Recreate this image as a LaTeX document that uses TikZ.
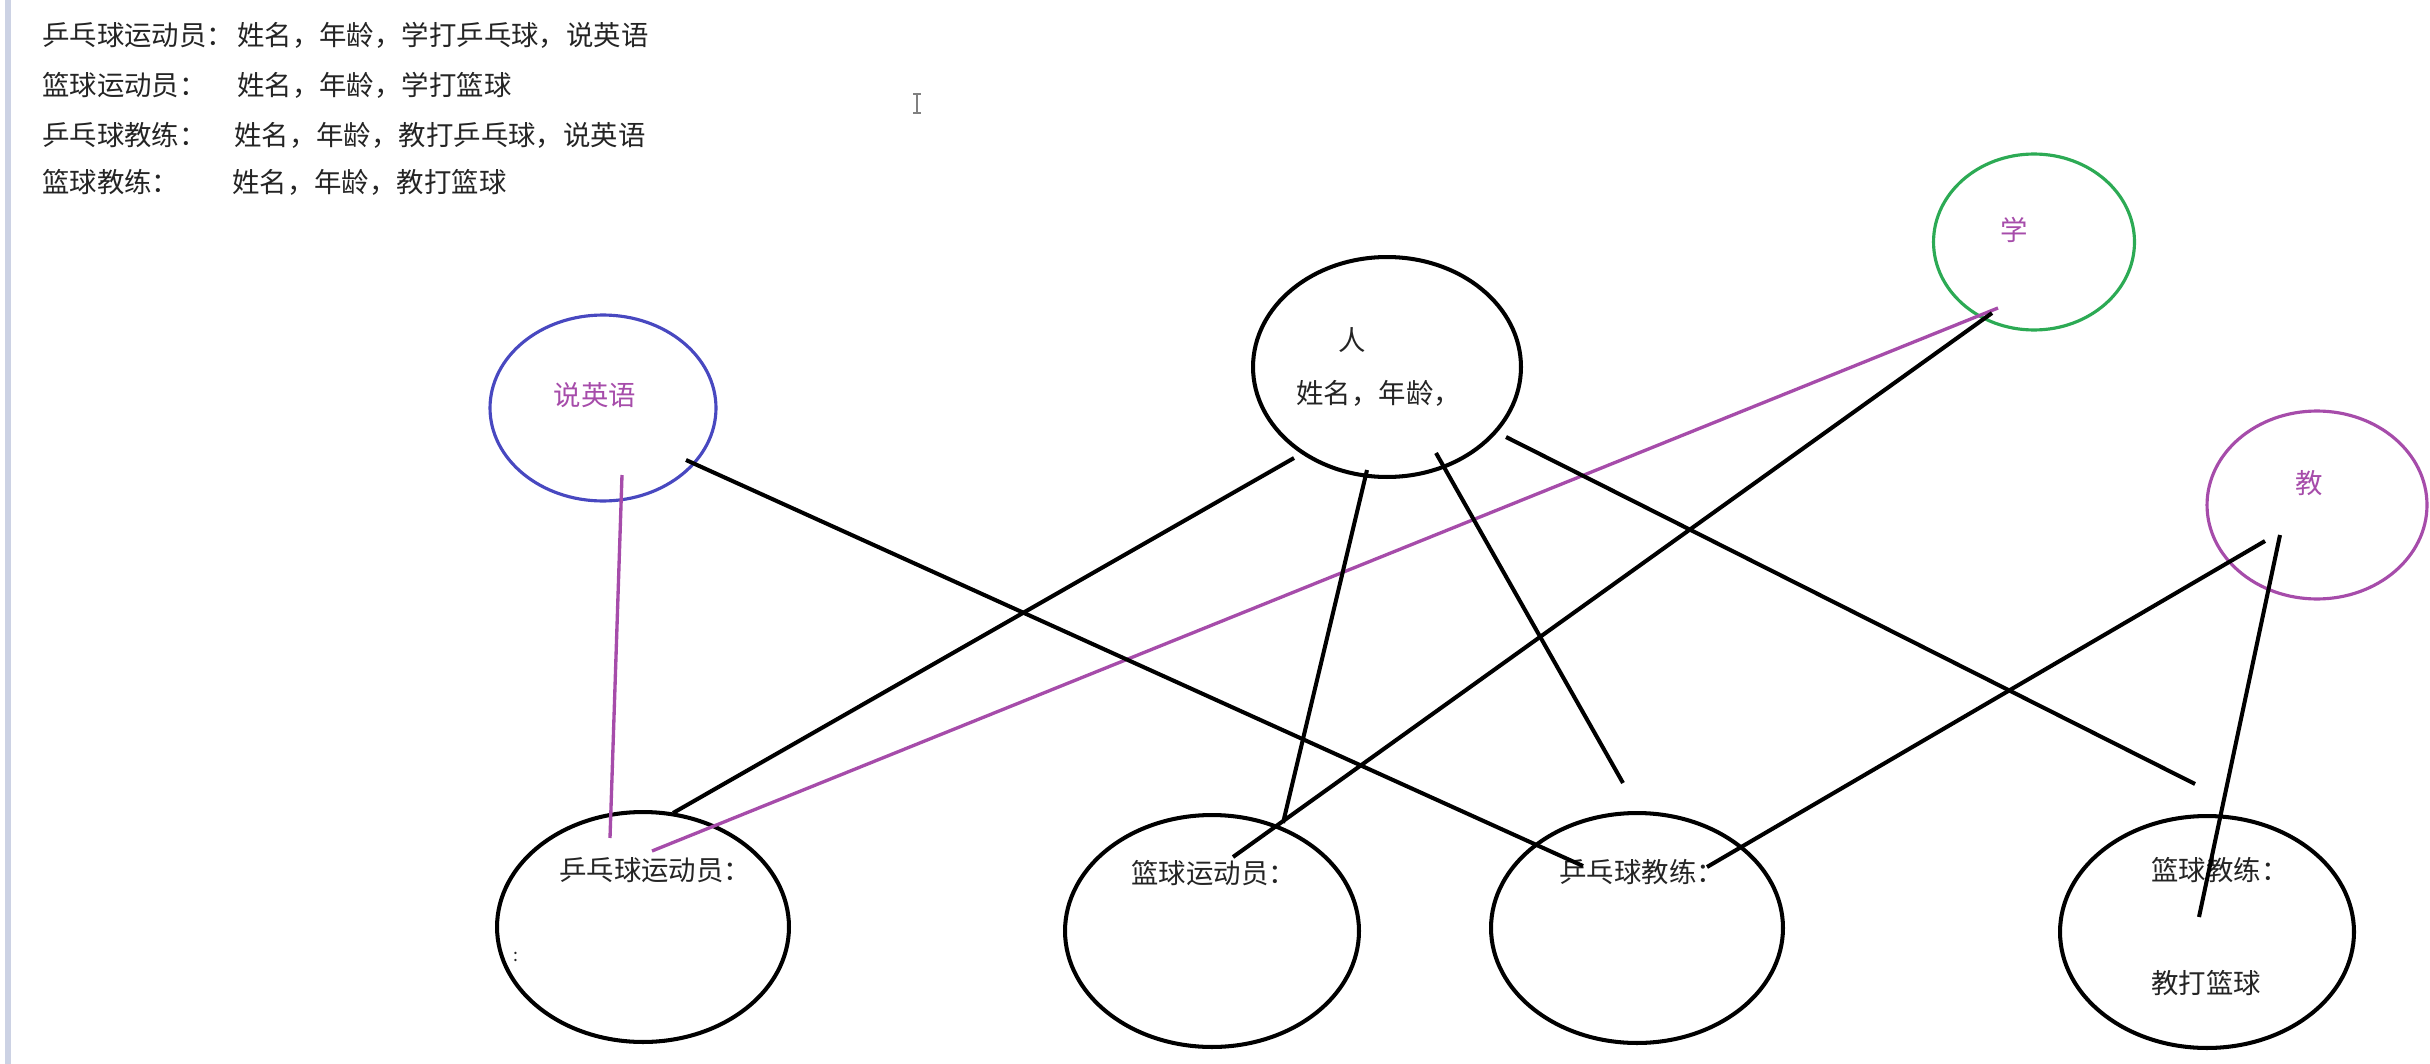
\documentclass[tikz,border=0pt]{standalone}
\usepackage{fontspec}
\setmainfont{Noto Sans CJK SC}
\usetikzlibrary{shapes.geometric}

\definecolor{bluering}{RGB}{72,72,192}
\definecolor{greenring}{RGB}{44,170,84}
\definecolor{mauve}{RGB}{166,76,170}
\definecolor{inkgray}{RGB}{36,36,36}
\definecolor{barblue}{RGB}{204,210,228}

\newcommand{\notefont}{\fontsize{15.6pt}{18pt}\selectfont}
\newcommand{\blobfont}{\fontsize{15.6pt}{18pt}\selectfont}

\tikzset{
  blob/.style={draw, ellipse, line width=2.3pt, inner sep=0pt},
  link/.style={line width=2.3pt},
  pinklink/.style={line width=1.9pt, draw=mauve},
  note/.style={anchor=west, inner sep=0pt, font=\notefont, text=inkgray},
  blobtext/.style={inner sep=0pt, font=\blobfont, text=inkgray},
}

\begin{document}
\begin{tikzpicture}[x=0.02cm, y=-0.02cm]
\useasboundingbox (0,0) rectangle (2430,1064);
\fill[barblue] (5,0) rectangle (11,1064);

% the four roles as text
\node[note] (n1a) at (42,35) {乒乓球运动员：};
\node[note] (n1b) at (237,35) {姓名，年龄，学打乒乓球，说英语};
\node[note] (n2a) at (42,85) {篮球运动员：};
\node[note] (n2b) at (237,85) {姓名，年龄，学打篮球};
\node[note] (n3a) at (42,135) {乒乓球教练：};
\node[note] (n3b) at (234,135) {姓名，年龄，教打乒乓球，说英语};
\node[note] (n4a) at (42,182) {篮球教练：};
\node[note] (n4b) at (232,182) {姓名，年龄，教打篮球};

% text cursor
\draw[gray, line width=0.7pt] (917,94) -- (917,113) (913,94) -- (921,94) (913,113) -- (921,113);

% ellipses
\node[blob, draw=bluering, line width=1.8pt, minimum width=4.52cm, minimum height=3.72cm] (spk) at (603,408) {};
\node[blob, minimum width=5.36cm, minimum height=4.40cm] (ren) at (1387,367) {};
\node[blob, draw=greenring, line width=1.8pt, minimum width=4.02cm, minimum height=3.52cm] (xue) at (2034,242) {};
\node[blob, draw=mauve, line width=1.8pt, minimum width=4.40cm, minimum height=3.76cm] (jiao) at (2317,505) {};
\node[blob, minimum width=5.84cm, minimum height=4.60cm] (ppyd) at (643,927) {};
\node[blob, minimum width=5.88cm, minimum height=4.64cm] (lqyd) at (1212,931) {};
\node[blob, minimum width=5.84cm, minimum height=4.60cm] (ppjl) at (1637,928) {};
\node[blob, minimum width=5.88cm, minimum height=4.64cm] (lqjl) at (2207,932) {};

% labels inside
\node[blobtext, text=mauve] (spk-t) at (595,395) {说英语};
\node[blobtext] (ren-t) at (1352,340) {人};
\node[blobtext, anchor=west] (ren-f) at (1296,393) {姓名，年龄，};
\node[blobtext, text=mauve] (xue-t) at (2014,230) {学};
\node[blobtext, text=mauve] (jiao-t) at (2309,483) {教};
\node[blobtext, anchor=west] (ppyd-t) at (559,870) {乒乓球运动员：};
\node[blobtext, font=\fontsize{10pt}{11pt}\selectfont] (ppyd-m) at (516,957) {:};
\node[blobtext, anchor=west] (lqyd-t) at (1131,873) {篮球运动员：};
\node[blobtext, anchor=west] (ppjl-t) at (1559,872) {乒乓球教练：};
\node[blobtext, anchor=west] (lqjl-t) at (2151,870) {篮球教练：};
\node[blobtext] (lqjl-f) at (2206,983) {教打篮球};

% line ends
\coordinate (spk-a) at (622,475);
\coordinate (spk-b) at (686,460);
\coordinate (ren-a) at (1294,458);
\coordinate (ren-b) at (1367,470);
\coordinate (ren-c) at (1436,453);
\coordinate (ren-d) at (1506,437);
\coordinate (xue-a) at (1998,308);
\coordinate (xue-b) at (1992,313);
\coordinate (jiao-a) at (2265,541);
\coordinate (jiao-b) at (2280,535);
\coordinate (ppyd-a) at (610,838);
\coordinate (ppyd-b) at (652,851);
\coordinate (ppyd-c) at (673,813);
\coordinate (lqyd-a) at (1283,823);
\coordinate (lqyd-b) at (1233,857);
\coordinate (ppjl-a) at (1583,866);
\coordinate (ppjl-b) at (1623,783);
\coordinate (ppjl-c) at (1707,867);
\coordinate (lqjl-a) at (2195,784);
\coordinate (lqjl-b) at (2199,917);

% connectors
\draw[pinklink] (spk-a) -- (ppyd-a);
\draw[pinklink] (xue-a) -- (ppyd-b);
\draw[link] (spk-b) -- (ppjl-a);
\draw[link] (ren-a) -- (ppyd-c);
\draw[link] (ren-b) -- (lqyd-a);
\draw[link] (ren-c) -- (ppjl-b);
\draw[link] (ren-d) -- (lqjl-a);
\draw[link] (xue-b) -- (lqyd-b);
\draw[link] (jiao-a) -- (ppjl-c);
\draw[link] (jiao-b) -- (lqjl-b);
\end{tikzpicture}
\end{document}
